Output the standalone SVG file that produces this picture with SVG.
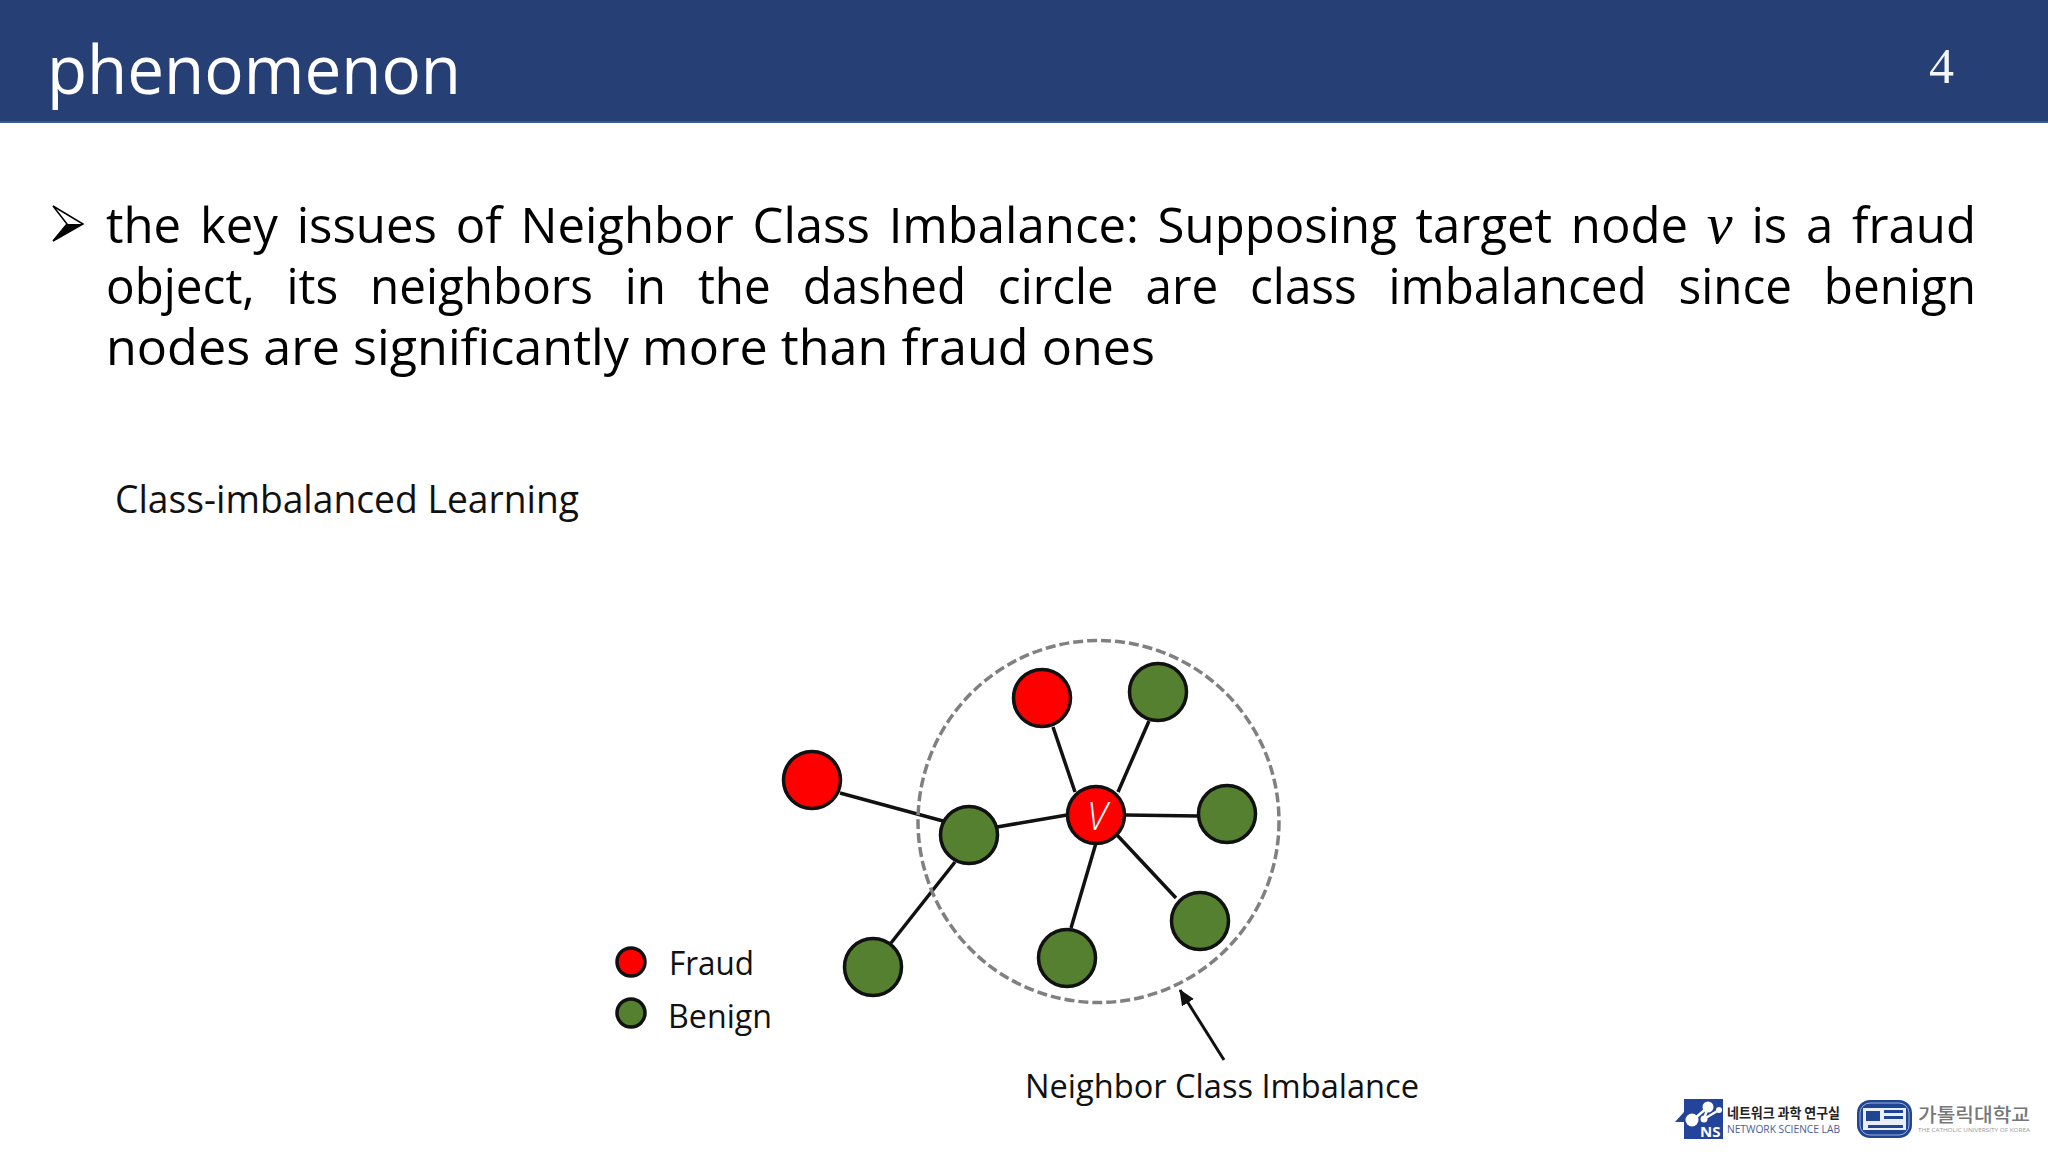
<svg xmlns="http://www.w3.org/2000/svg" width="2048" height="1152" viewBox="0 0 2048 1152">
<style>
text{font-family:"Open Sans","Noto Sans",sans-serif}
.body{font-size:49px;fill:#000}
.lab{font-size:33px;fill:#111}
.edge{stroke:#111;stroke-width:3.500;fill:none}
.f{fill:#fe0000;stroke:#111;stroke-width:3.500}
.b{fill:#55802f;stroke:#111;stroke-width:3.500}
.ko{font-family:"Noto Sans CJK KR",sans-serif;font-weight:700}
</style>
<defs>
<marker id="ah" markerUnits="userSpaceOnUse" markerWidth="16" markerHeight="14" refX="15" refY="7" orient="auto"><path d="M0 0L16 7L0 14z" fill="#111"/></marker>
</defs>
<rect width="2048" height="1152" fill="#fff"/>
<g id="header">
<rect width="2048" height="122.500" fill="#264076"/>
<rect y="121" width="2048" height="2" fill="#3a5a90"/>
<text x="47" y="94" font-size="67" font-weight="400" fill="#fff" textLength="414" lengthAdjust="spacingAndGlyphs">phenomenon</text>
<text x="1929" y="83" font-size="50" fill="#f4f6fa" style="font-family:'Liberation Serif',serif">4</text>
</g>
<g id="content">
<path d="M53 206L83 224L53 241L67 224z" fill="#fff" stroke="#000" stroke-width="1.500"/>
<path d="M53 241L83 224L67 224z" fill="#000"/>
<text class="body" x="106" y="243" word-spacing="6" textLength="1870" lengthAdjust="spacingAndGlyphs">the key issues of Neighbor Class Imbalance: Supposing target node <tspan font-style="italic" font-size="58" style="font-family:'Liberation Serif',serif">v</tspan> is a fraud</text>
<text class="body" x="106" y="304" word-spacing="20" textLength="1870" lengthAdjust="spacingAndGlyphs">object, its neighbors in the dashed circle are class imbalanced since benign</text>
<text class="body" x="106" y="365" textLength="1049" lengthAdjust="spacingAndGlyphs">nodes are significantly more than fraud ones</text>
<text x="115" y="513" font-size="38" fill="#111" textLength="464" lengthAdjust="spacingAndGlyphs">Class-imbalanced Learning</text>
</g>
<g id="connectors">
<line class="edge" x1="840" y1="793" x2="943" y2="821"/>
<line class="edge" x1="997" y1="827" x2="1067" y2="815"/>
<line class="edge" x1="955" y1="862" x2="891" y2="943"/>
<line class="edge" x1="1075" y1="792" x2="1053" y2="727"/>
<line class="edge" x1="1118" y1="792" x2="1149" y2="721"/>
<line class="edge" x1="1125" y1="815" x2="1198" y2="816"/>
<line class="edge" x1="1117" y1="835" x2="1176" y2="898"/>
<line class="edge" x1="1096" y1="843" x2="1071" y2="928"/>
<line x1="1224" y1="1060" x2="1180" y2="990" stroke="#111" stroke-width="3" marker-end="url(#ah)"/>
</g>
<g id="neighborhood"><ellipse cx="1098.500" cy="821.500" rx="180.500" ry="181" fill="none" stroke="#808080" stroke-width="3.500" stroke-dasharray="10 4"/></g>
<g id="n-fraud-left"><circle class="f" cx="812" cy="780" r="28.500"/></g>
<g id="n-fraud-top"><circle class="f" cx="1042" cy="698" r="28.500"/></g>
<g id="n-benign-top"><circle class="b" cx="1158" cy="692" r="28.500"/></g>
<g id="n-benign-left"><circle class="b" cx="969" cy="835" r="28.500"/></g>
<g id="n-target"><circle class="f" cx="1096" cy="815" r="28.500"/><text x="1097" y="830" font-size="38" font-style="italic" fill="#fff" text-anchor="middle" font-weight="300">V</text></g>
<g id="n-benign-right"><circle class="b" cx="1227" cy="814" r="28.500"/></g>
<g id="n-benign-br"><circle class="b" cx="1200" cy="921" r="28.500"/></g>
<g id="n-benign-b"><circle class="b" cx="1067" cy="958" r="28.500"/></g>
<g id="n-benign-bl"><circle class="b" cx="873" cy="967" r="28.500"/></g>
<g id="legend">
<circle class="f" cx="631" cy="962" r="14"/>
<circle class="b" cx="631" cy="1013" r="14"/>
<text class="lab" x="669" y="975" textLength="85" lengthAdjust="spacingAndGlyphs">Fraud</text>
<text class="lab" x="668" y="1028" textLength="104" lengthAdjust="spacingAndGlyphs">Benign</text>
</g>
<g id="label-nci"><text class="lab" x="1025" y="1098" textLength="394" lengthAdjust="spacingAndGlyphs">Neighbor Class Imbalance</text></g>
<g id="logo-lab">
<path d="M1675 1122L1684 1112V1099H1723V1139H1684V1122z" fill="#23449a"/>
<path d="M1693 1120L1708 1107L1704 1119L1719 1110" fill="none" stroke="#fff" stroke-width="2.500"/>
<g fill="#fff"><circle cx="1708" cy="1107" r="5.500"/><circle cx="1692" cy="1120" r="6.500"/><circle cx="1704" cy="1119" r="3.500"/><circle cx="1719" cy="1110" r="3"/></g>
<text x="1700" y="1137" font-size="15" font-weight="700" fill="#fff">NS</text>
<text class="ko" x="1727" y="1118" font-size="14" fill="#222" textLength="113" lengthAdjust="spacingAndGlyphs">네트워크 과학 연구실</text>
<text x="1727" y="1133" font-size="11" fill="#4a5c9c" textLength="113" lengthAdjust="spacingAndGlyphs">NETWORK SCIENCE LAB</text>
</g>
<g id="logo-univ">
<rect x="1857" y="1100" width="55" height="38" rx="13" fill="#1f4593"/>
<rect x="1860" y="1103" width="49" height="32" rx="10" fill="none" stroke="#9fb0d6" stroke-width="1"/>
<rect x="1863" y="1108" width="43" height="22" fill="#e9eef7"/>
<path d="M1866 1111H1880V1121H1866zM1884 1110H1903V1113H1884zM1884 1116H1903V1119H1884zM1868 1125H1903V1128H1868z" fill="#1f4593"/>
<text class="ko" x="1918" y="1122" font-size="19" style="font-weight:500" fill="#777" textLength="112" lengthAdjust="spacingAndGlyphs">가톨릭대학교</text>
<text x="1918" y="1132" font-size="6" fill="#999" textLength="112" lengthAdjust="spacingAndGlyphs">THE CATHOLIC UNIVERSITY OF KOREA</text>
</g>
</svg>
